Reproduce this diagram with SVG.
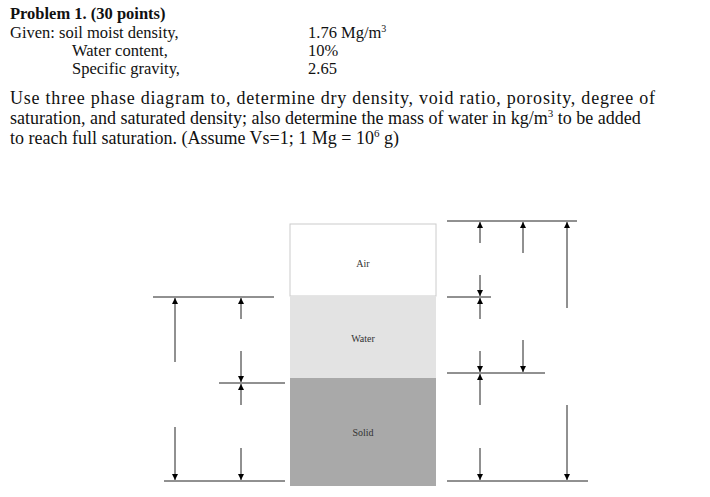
<svg xmlns="http://www.w3.org/2000/svg" width="710" height="497" viewBox="0 0 710 497">
<defs><marker id="ah" viewBox="0 0 8 8" refX="8" refY="4" markerWidth="6" markerHeight="6" orient="auto"><path d="M0,0L8,4L0,8Z" fill="#000"/></marker></defs>
<style>.t{font-family:"Liberation Serif",serif;font-size:18px;fill:#111}.s{font-size:16.5px}.l{font-family:"Liberation Serif",serif;font-size:10px;fill:#333}.k{stroke:#222;stroke-width:1;fill:none}.a{stroke:#222;stroke-width:1;marker-end:url(#ah)}</style>
<rect width="710" height="497" fill="#fff"/>
<g id="text">
<text class="t s" x="10" y="19" font-weight="bold">Problem 1. (30 points)</text>
<text class="t s" x="10" y="38">Given: soil moist density,</text>
<text class="t s" x="308" y="38">1.76 Mg/m<tspan font-size="10" dy="-6">3</tspan></text>
<text class="t s" x="72" y="56">Water content,</text>
<text class="t s" x="308" y="56">10%</text>
<text class="t s" x="72" y="74">Specific gravity,</text>
<text class="t s" x="308" y="74">2.65</text>
<text class="t" x="10" y="104" textLength="645" lengthAdjust="spacing">Use three phase diagram to, determine dry density, void ratio, porosity, degree of</text>
<text class="t" x="10" y="124">saturation, and saturated density; also determine the mass of water in kg/m<tspan font-size="11" dy="-7">3</tspan><tspan dy="7"> to be added</tspan></text>
<text class="t" x="10" y="144">to reach full saturation. (Assume Vs=1;  1 Mg = 10<tspan font-size="11" dy="-7">6</tspan><tspan dy="7"> g)</tspan></text>
</g>
<g id="air"><rect x="290" y="224" width="146" height="72" fill="#fff" stroke="#ccc"/><text class="l" x="363" y="267" text-anchor="middle">Air</text></g>
<g id="water"><rect x="290" y="296" width="146" height="82" fill="#e3e3e3"/><text class="l" x="363" y="342" text-anchor="middle">Water</text></g>
<g id="solid"><rect x="290" y="378" width="146" height="108" fill="#a9a9a9"/><text class="l" x="363" y="436" text-anchor="middle">Solid</text></g>
<g id="connectors">
<path class="k" d="M153 297H274M219 383H285M164 481H285M447 221H577M447 297H491M447 373H545M447 481H588"/>
<line class="a" x1="175" y1="362" x2="175" y2="298"/><line class="a" x1="175" y1="427" x2="175" y2="480"/>
<line class="a" x1="241" y1="319" x2="241" y2="298"/><line class="a" x1="241" y1="351" x2="241" y2="382"/><line class="a" x1="241" y1="405" x2="241" y2="384"/><line class="a" x1="241" y1="448" x2="241" y2="480"/>
<line class="a" x1="480" y1="243" x2="480" y2="222"/><line class="a" x1="480" y1="275" x2="480" y2="296"/><line class="a" x1="480" y1="319" x2="480" y2="298"/><line class="a" x1="480" y1="351" x2="480" y2="372"/><line class="a" x1="480" y1="405" x2="480" y2="374"/><line class="a" x1="480" y1="448" x2="480" y2="480"/>
<line class="a" x1="523" y1="253" x2="523" y2="222"/><line class="a" x1="523" y1="340" x2="523" y2="372"/>
<line class="a" x1="567" y1="308" x2="567" y2="222"/><line class="a" x1="567" y1="405" x2="567" y2="480"/>
</g>
</svg>
